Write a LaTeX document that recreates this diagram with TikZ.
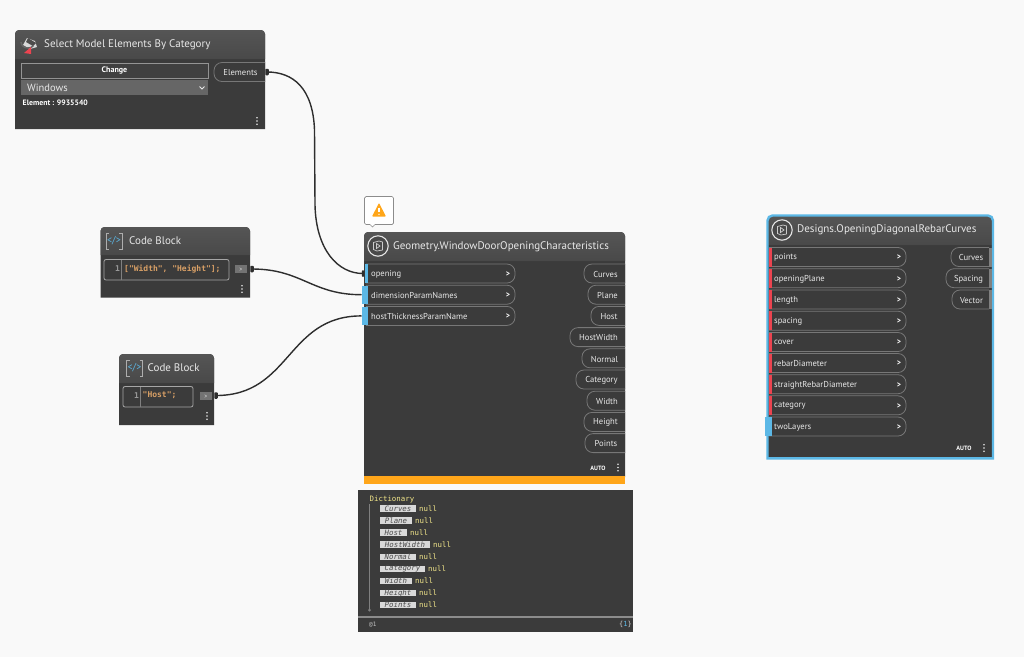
\documentclass[tikz,border=0pt]{standalone}
\usepackage{fontspec}
\setmainfont{PT Sans}
\setmonofont{DejaVu Sans Mono}
\usetikzlibrary{calc}
\definecolor{canvas}{HTML}{F9F9F9}
\definecolor{nodebody}{HTML}{3B3B3B}
\definecolor{headtop}{HTML}{555555}
\definecolor{headbot}{HTML}{494949}
\definecolor{pillline}{HTML}{777777}
\definecolor{txt}{HTML}{E8E8E8}
\definecolor{dyblue}{HTML}{5CB8E6}
\definecolor{dyred}{HTML}{EB4450}
\definecolor{dyorange}{HTML}{FFA61A}
\definecolor{wire}{HTML}{2E2E2E}
\definecolor{codeyellow}{HTML}{F2E68A}
\definecolor{codeorange}{HTML}{D9A066}
\tikzset{
  x=1pt,y=-1pt,
  titletext/.style={anchor=west,inner sep=0pt,text=txt,font=\fontsize{11}{11}\selectfont},
  porttext/.style={anchor=west,inner sep=0pt,text=txt,font=\fontsize{8.6}{8.6}\selectfont},
  pill/.style={draw=pillline,line width=.8pt,fill=nodebody},
  wirepath/.style={draw=wire,line width=1.4pt},
  portdot/.style={fill=wire,draw=none,minimum width=3.5pt,minimum height=6.5pt,inner sep=0pt,rounded corners=.8pt},
  codetext/.style={anchor=west,inner sep=0pt,font=\ttfamily\bfseries\fontsize{8}{8}\selectfont},
  dicttext/.style={anchor=west,inner sep=0pt,font=\ttfamily\fontsize{7.4}{7.4}\selectfont},
  dictkey/.style={anchor=west,inner sep=0pt,text=black!70,font=\ttfamily\itshape\fontsize{7.4}{7.4}\selectfont},
}
% node frame: x1 y1 x2 y2 yheader
\newcommand{\nodeframe}[5]{%
  \fill[nodebody] (#1,#4) [rounded corners=4pt] -- (#1,#2) -- (#3,#2) [sharp corners] -- (#3,#4) -- cycle;
  \shade[top color=headtop,bottom color=headbot] (#1,#5) [rounded corners=4pt] -- (#1,#2) -- (#3,#2) [sharp corners] -- (#3,#5) -- cycle;
}
% three dots
\newcommand{\menudots}[2]{%
  \foreach \d in {-3.2,0,3.2}{\fill[txt] (#1,#2+\d) circle (.85pt);}
}
% round badge icon
\newcommand{\badge}[2]{%
  \draw[white!90!black,line width=1.1pt,fill=headbot] (#1,#2) circle (10.2pt);
  \draw[white!80!black,line width=.7pt] (#1-4.5,#2-3.5) -- (#1+1,#2-5) -- (#1+4.5,#2-4) -- (#1+4.5,#2+4) -- (#1-1,#2+5) -- (#1-4.5,#2+3.5) -- cycle;
  \draw[white!80!black,line width=.7pt] (#1-1.5,#2-2.5) -- (#1+2,#2) -- (#1-1.5,#2+2.5) -- cycle;
}
% input pill: name, x1, x2, ycentre, text
\newcommand{\inpill}[5]{%
  \draw[pill,rounded corners=8pt] (#2,#4-9.5) -- (#3,#4-9.5) -- (#3,#4+9.5) -- (#2,#4+9.5);
  \node[porttext] (#1) at (#2+5,#4+.8) {#5};
  \node[anchor=center,inner sep=0pt,text=white,font=\bfseries\fontsize{8}{8}\selectfont] at (#3-7,#4+.5) {>};
}
% output pill: name, x1, x2, ycentre, text
\newcommand{\outpill}[5]{%
  \draw[pill,rounded corners=8pt] (#3,#4-9.5) -- (#2,#4-9.5) -- (#2,#4+9.5) -- (#3,#4+9.5);
  \node[porttext,anchor=center] (#1) at ({(#2+#3)/2+1},#4+.8) {#5};
}
% code-block icon
\newcommand{\cbicon}[2]{%
  \draw[txt!75!black,line width=.8pt] (#1-5,#2-8) -- (#1-8,#2-8) -- (#1-8,#2+8) -- (#1-5,#2+8);
  \draw[txt!75!black,line width=.8pt] (#1+5,#2-8) -- (#1+8,#2-8) -- (#1+8,#2+8) -- (#1+5,#2+8);
  \node[inner sep=0pt,text=dyblue,font=\fontsize{10}{10}\selectfont] at (#1,#2) {</>};
}
% dictionary row
\newcommand{\dictrow}[3]{%
  \fill[white!85!black] (380,#1-3.4) rectangle (#3,#1+3.2);
  \node[dictkey,anchor=center] at ({(380+#3)/2},#1) {#2};
  \node[dicttext,text=codeyellow] at (#3+3,#1) {null};
}
\begin{document}
\begin{tikzpicture}
\useasboundingbox (0,0) rectangle (1024,657);
\fill[canvas] (0,0) rectangle (1024,657);

% ---------- Select Model Elements
\nodeframe{15}{30}{265}{129}{59}
\node[titletext] (selTitle) at (44,45) {Select Model Elements By Category};
\fill[white!85!black] (27,38) -- (35,41) -- (37,47) -- (30,49) -- (23,45) -- cycle;
\draw[black!60,line width=1.4pt] (21,42) arc (180:320:7pt and 6pt);
\fill[black!70] (28,38) -- (36,43) -- (33,46) -- (26,42) -- cycle;
\fill[dyred] (24,53) -- (31,47) -- (31,54) -- cycle;
\node[draw=black!20!white,draw opacity=.6,line width=.9pt,fill=black!75,minimum width=187pt,minimum height=15pt,inner sep=0pt,text=white,font=\bfseries\fontsize{8}{8}\selectfont] (change) at (114.5,70.5) {Change};
\fill[black!60!white] (21,80) rectangle (208,95);
\node[anchor=west,inner sep=0pt,text=txt,font=\fontsize{10.5}{10.5}\selectfont] (windows) at (27,87.5) {Windows};
\draw[txt,line width=.8pt] (199.5,86.5) -- (202,89) -- (204.5,86.5);
\node[anchor=west,inner sep=0pt,text=white,font=\bfseries\fontsize{7.8}{7.8}\selectfont] (elem) at (22.5,103) {Element : 9935540};
\menudots{257}{121}
\outpill{elemOut}{214}{265}{72}{Elements}
\node[portdot] (pElem) at (267,72) {};

% ---------- Code Block 1
\nodeframe{100.5}{227}{250}{297.5}{255}
\cbicon{114}{241}
\node[titletext] (cb1t) at (129,241) {Code Block};
\draw[black!35!white,line width=.8pt,fill=nodebody,rounded corners=2pt] (104,259.5) rectangle (229,280);
\node[codetext,text=black!40!white] (cb1n) at (115,269) {1};
\draw[black!50!white,line width=.4pt] (121.5,260) -- (121.5,279.5);
\node[codetext,text=codeorange] (cb1c) at (124,269) {["Width", "Height"];};
\fill[black!55!white] (235,265) rectangle (247,273);
\node[inner sep=0pt,text=txt,font=\fontsize{6}{6}\selectfont] (cb1a) at (241,269.3) {>};
\menudots{242}{289}
\node[portdot] (pCb1) at (252,269) {};

% ---------- Code Block 2
\nodeframe{119}{354}{214}{425}{383}
\cbicon{134.5}{368}
\node[titletext] (cb2t) at (147.5,368) {Code Block};
\draw[black!35!white,line width=.8pt,fill=nodebody,rounded corners=2pt] (123,386.5) rectangle (193,407);
\node[codetext,text=black!40!white] (cb2n) at (134,395.5) {1};
\draw[black!50!white,line width=.4pt] (140.5,387) -- (140.5,406.5);
\node[codetext,text=codeorange] (cb2c) at (142.5,395.5) {"Host";};
\fill[black!55!white] (200,392) rectangle (212,400);
\node[inner sep=0pt,text=txt,font=\fontsize{6}{6}\selectfont] (cb2a) at (206,396.3) {>};
\menudots{207}{416}
\node[portdot] (pCb2) at (216,395.5) {};

% ---------- warning bubble
\draw[black!45!white,line width=.7pt,fill=white,rounded corners=1.5pt] (364.5,196.5) rectangle (393.5,224.5);
\fill[white] (370,224) rectangle (375,225.5);
\draw[black!45!white,line width=.6pt] (370,224.5) -- (372.5,227) -- (375,224.5);
\fill[dyorange,rounded corners=.8pt] (379,203) -- (386,216.5) -- (372,216.5) -- cycle;
\draw[white,line width=1.1pt] (379,207.5) -- (379,212);
\fill[white] (379,214.4) circle (.7pt);

% ---------- Main node
\nodeframe{364}{232}{625}{477}{261}
\fill[dyorange] (364,476) rectangle (625,484);
\badge{378}{246}
\node[titletext] (mainT) at (393,246.5) {Geometry.WindowDoorOpeningCharacteristics};
\inpill{inA}{366}{515}{273.5}{opening}
\inpill{inB}{366}{515}{294.7}{dimensionParamNames}
\inpill{inC}{366}{515}{315.9}{hostThicknessParamName}
\fill[dyblue] (365,264) rectangle (368,283);
\fill[dyblue] (361.5,285.5) rectangle (368,304);
\fill[dyblue] (361.5,306.5) rectangle (368,325);
\node[portdot,minimum width=2.5pt] (pA) at (363,273.5) {};
\coordinate (pB) at (361.5,294.7);
\coordinate (pC) at (361.5,315.9);
\outpill{o1}{584}{625}{273.5}{Curves}
\outpill{o2}{588}{625}{294.7}{Plane}
\outpill{o3}{591}{625}{315.9}{Host}
\outpill{o4}{570}{625}{337.1}{HostWidth}
\outpill{o5}{582}{625}{358.3}{Normal}
\outpill{o6}{576}{625}{379.5}{Category}
\outpill{o7}{587}{625}{400.7}{Width}
\outpill{o8}{584}{625}{421.9}{Height}
\outpill{o9}{585}{625}{443.1}{Points}
\node[inner sep=0pt,text=white,font=\bfseries\fontsize{6.2}{6.2}\selectfont] (autoA) at (598,468) {AUTO};
\menudots{618}{467.5}

% ---------- Preview bubble
\fill[nodebody] (358,490) rectangle (632.5,632);
\fill[black!45!white] (358,616) rectangle (632.5,618);
\node[dicttext,text=codeyellow] (dict) at (369.5,499) {Dictionary};
\draw[black!50!white,line width=1.1pt] (369.5,504) -- (369.5,610);
\fill[black!50!white] (369.5,610) circle (1.5pt);
\dictrow{508.7}{Curves}{416}
\dictrow{520.7}{Plane}{412}
\dictrow{532.7}{Host}{407}
\dictrow{544.8}{HostWidth}{430}
\dictrow{557}{Normal}{416}
\dictrow{569}{Category}{425}
\dictrow{581}{Width}{412}
\dictrow{593}{Height}{416}
\dictrow{605}{Points}{416}
\node[anchor=west,inner sep=0pt,text=black!25!white,font=\ttfamily\fontsize{6}{6}\selectfont] (at1) at (369,624.5) {@1};
\node[anchor=east,inner sep=0pt,font=\ttfamily\fontsize{7}{7}\selectfont] (cnt) at (632,624.5) {\textcolor{black!20!white}{\{}\textcolor{dyblue}{1}\textcolor{black!20!white}{\}}};

% ---------- Designs node
\nodeframe{768}{216}{992.5}{458}{245}
\draw[dyblue,line width=2.4pt] (993,458.3) -- (767.5,458.3) [rounded corners=5pt] -- (767.5,215.5) -- (993,215.5) [sharp corners] -- cycle;
\badge{782}{230}
\node[titletext] (desT) at (797,230) {Designs.OpeningDiagonalRebarCurves};
\inpill{r1}{769}{906}{257}{points}
\inpill{r2}{769}{906}{278.2}{openingPlane}
\inpill{r3}{769}{906}{299.5}{length}
\inpill{r4}{769}{906}{320.7}{spacing}
\inpill{r5}{769}{906}{342}{cover}
\inpill{r6}{769}{906}{363}{rebarDiameter}
\inpill{r7}{769}{906}{384.2}{straightRebarDiameter}
\inpill{r8}{769}{906}{405.3}{category}
\inpill{r9}{769}{906}{426.5}{twoLayers}
\foreach \yc in {257,278.2,299.5,320.7,342,363,384.2,405.3}{
  \fill[dyred] (769,\yc-9.5) rectangle (771.8,\yc+9.5);
}
\fill[dyblue] (765,417) rectangle (771.5,436);
\outpill{s1}{951}{989}{257}{Curves}
\outpill{s2}{946}{989}{278.2}{Spacing}
\outpill{s3}{952}{989}{299.5}{Vector}
\foreach \yc in {257,278.2,299.5}{
  \fill[black!50!white] (989,\yc-9.5) rectangle (992,\yc+9.5);
}
\node[inner sep=0pt,text=white,font=\bfseries\fontsize{6.2}{6.2}\selectfont] (autoB) at (964,448.5) {AUTO};
\menudots{984}{448}

% ---------- Connectors
\coordinate (bendTop) at ($(pElem.center)+(47.5,58)$);
\coordinate (bendBot) at ($(pA.center)+(-48,-68.5)$);
\draw[wirepath] (pElem.center) .. controls +(26,0) and +(-1.5,-42) .. (bendTop) -- (bendBot) .. controls +(1,45) and ($(pA.center)+(-25,0)$) .. (pA.center);
\draw[wirepath] (pCb1.center) .. controls +(50,0) and +(-50,0) .. (pB);
\draw[wirepath] (pCb2.center) .. controls +(75,0) and +(-75,0) .. (pC);
\end{tikzpicture}
\end{document}
